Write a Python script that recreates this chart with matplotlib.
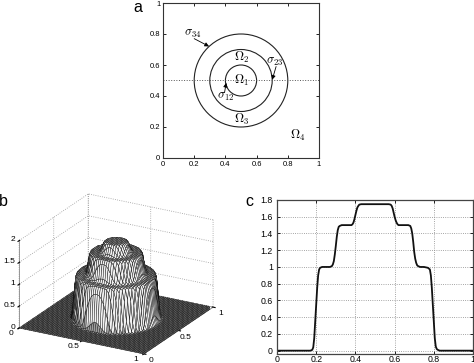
import numpy as np
import matplotlib
matplotlib.use("Agg")
import matplotlib.pyplot as plt
from matplotlib.patches import Circle
from matplotlib.ticker import NullFormatter
from mpl_toolkits.mplot3d import Axes3D  # noqa

plt.rcParams['font.family'] = ['Liberation Sans', 'DejaVu Sans']
plt.rcParams['mathtext.fontset'] = 'cm'

W, H = 474, 363

# Panel a
centre = (0.5, 0.5)
radii = [0.1, 0.2, 0.3]
a_ticks = [0, 0.2, 0.4, 0.6, 0.8, 1]
a_ticklabels = ['0', '0.2', '0.4', '0.6', '0.8', '1']
region_labels = [(r'$\Omega_1$', 0.505, 0.5), (r'$\Omega_2$', 0.505, 0.647),
                 (r'$\Omega_3$', 0.505, 0.25), (r'$\Omega_4$', 0.865, 0.146)]
sigma_labels = [(r'$\sigma_{34}$', 0.19, 0.80), (r'$\sigma_{23}$', 0.715, 0.62),
                (r'$\sigma_{12}$', 0.40, 0.394)]
arrow_tails = [(0.20, 0.77), (0.725, 0.59), (0.395, 0.425)]
arrow_heads = [(0.295, 0.72), (0.70, 0.505), (0.405, 0.485)]

# Panel c profile
profile_x = [0, 0.17, 0.18, 0.185, 0.19, 0.195, 0.2, 0.205, 0.21, 0.215, 0.22, 0.23, 0.25, 0.27,
             0.28, 0.285, 0.29, 0.295, 0.30, 0.305, 0.31, 0.315, 0.32, 0.33, 0.36, 0.38,
             0.385, 0.39, 0.395, 0.40, 0.405, 0.41, 0.415, 0.42, 0.43, 0.50,
             0.57, 0.58, 0.585, 0.59, 0.595, 0.60, 0.605, 0.61, 0.615, 0.62, 0.64, 0.67,
             0.68, 0.685, 0.69, 0.695, 0.70, 0.705, 0.71, 0.715, 0.72, 0.73, 0.75, 0.77,
             0.78, 0.785, 0.79, 0.795, 0.80, 0.805, 0.81, 0.815, 0.82, 0.83, 1]
profile_y = [0, 0, 0.01, 0.04, 0.15, 0.35, 0.55, 0.75, 0.90, 0.97, 0.99, 1.0, 1.0, 1.0,
             1.01, 1.03, 1.07, 1.15, 1.25, 1.36, 1.44, 1.48, 1.49, 1.5, 1.5, 1.5,
             1.51, 1.53, 1.57, 1.62, 1.67, 1.71, 1.73, 1.745, 1.75, 1.75,
             1.75, 1.745, 1.73, 1.70, 1.65, 1.60, 1.56, 1.53, 1.51, 1.5, 1.5, 1.5,
             1.49, 1.46, 1.40, 1.30, 1.18, 1.10, 1.05, 1.02, 1.01, 1.0, 1.0, 0.99,
             0.97, 0.90, 0.75, 0.55, 0.35, 0.15, 0.05, 0.02, 0.01, 0, 0]
c_xticks = [0, 0.2, 0.4, 0.6, 0.8, 1]
c_xlabels = ['0', '0.2', '0.4', '0.6', '0.8', '1']
c_yticks = [0, 0.2, 0.4, 0.6, 0.8, 1, 1.2, 1.4, 1.6, 1.8]
c_ylabels = ['0', '0.2', '0.4', '0.6', '0.8', '1', '1.2', '1.4', '1.6', '1.8']

# Panel b ticks
b_xyticks = [0, 0.5, 1]
b_xylabels = ['0', '0.5', '1']
b_zticks = [0, 0.5, 1, 1.5, 2]
b_zlabels = ['0', '0.5', '1', '1.5', '2']


def box(l, t, r, b):
    return [l / W, 1 - b / H, (r - l) / W, (b - t) / H]


fig = plt.figure(figsize=(W / 100, H / 100), dpi=100)

# ---- a ----
axa = fig.add_axes(box(163, 3, 319, 158))
for r in radii:
    axa.add_patch(Circle(centre, r, fill=False, ec='#222222', lw=0.8))
axa.plot([0, 1], [0.5, 0.5], ls=':', color='#555555', lw=0.7)
for s, x, y in region_labels:
    axa.text(x, y, s, fontsize=9, ha='center', va='center')
for s, x, y in sigma_labels:
    axa.text(x, y, s, fontsize=9, ha='center', va='center')
for tail, head in zip(arrow_tails, arrow_heads):
    axa.annotate('', xy=head, xytext=tail,
                 arrowprops=dict(arrowstyle='-|>', lw=0.6, color='black', mutation_scale=6,
                                 shrinkA=0, shrinkB=0))
axa.set_xlim(0, 1)
axa.set_ylim(0, 1)
axa.set_xticks(a_ticks, a_ticklabels)
axa.set_yticks(a_ticks, a_ticklabels)
axa.tick_params(direction='in', length=2, width=0.6, labelsize=5.5, pad=2, top=True, right=True)
for sp in axa.spines.values():
    sp.set_linewidth(0.8)
    sp.set_color('#333333')

# ---- c ----
axc = fig.add_axes(box(277, 200, 473, 354))
axc.plot(profile_x, profile_y, color='#111111', lw=1.3)
axc.set_xlim(0, 1)
axc.set_ylim(-0.04, 1.8)
axc.set_xticks(c_xticks, c_xlabels)
axc.set_yticks(c_yticks, c_ylabels)
axc.grid(True, ls=':', color='#888888', lw=0.6)
axc.tick_params(direction='in', length=2, width=0.6, labelsize=6.3, top=True, right=True)
axc.tick_params(axis='y', pad=3)
axc.tick_params(axis='x', pad=1)
for sp in axc.spines.values():
    sp.set_linewidth(0.9)
    sp.set_color('#444444')

# ---- b ----
axb = fig.add_axes(box(-4, 180, 231, 373), projection='3d', proj_type='ortho')
axb.view_init(elev=22, azim=-61)
axb.set_box_aspect((1, 1, 0.66), zoom=1.12)
n = 62
gx = np.linspace(0, 1, n)
gy = np.linspace(0, 1, n)
X, Y = np.meshgrid(gx, gy)
R = np.hypot(X - 0.5, Y - 0.5)
Z = np.interp(0.5 + R, profile_x, profile_y)
fc = np.empty(Z.shape + (4,))
fc[..., :3] = np.where(Z[..., None] > 0.02, 0.95, 0.62)
fc[..., 3] = 1
axb.plot_surface(X, Y, Z, rstride=1, cstride=1, facecolors=fc, edgecolor='#111111',
                 linewidth=0.3, shade=False, antialiased=True)
axb.set_xlim(0, 1)
axb.set_ylim(0, 1)
axb.set_zlim(0, 2)
axb.set_xticks(b_xyticks)
axb.set_yticks(b_xyticks)
axb.set_zticks(b_zticks)
axb.tick_params(length=0)
for axis in (axb.xaxis, axb.yaxis, axb.zaxis):
    axis.set_major_formatter(NullFormatter())
    axis.set_pane_color((1, 1, 1, 0))
    axis.line.set_color('#888888')
    axis.line.set_linewidth(0.6)
    axis._axinfo['grid'].update(color='#999999', linestyle=':', linewidth=0.6)
axb.zaxis.set_ticks_position('lower')
axb.patch.set_alpha(0)
for t, s in zip(b_xyticks, b_xylabels):
    axb.text(t, -0.12, 0, s, fontsize=6, ha='center', va='center')
    axb.text(1.06, t, -0.12, s, fontsize=6, ha='center', va='center')
for t, s in zip(b_zticks, b_zlabels):
    axb.text(-0.03, 0, t, s, fontsize=6, ha='right', va='center')

# ---- panel letters ----
for s, x, y in [('a', 138, 8), ('b', 3, 201), ('c', 249, 202)]:
    fig.text(x / W, 1 - y / H, s, fontsize=11.5, ha='center', va='center')

fig.savefig('out.png', dpi=100)
